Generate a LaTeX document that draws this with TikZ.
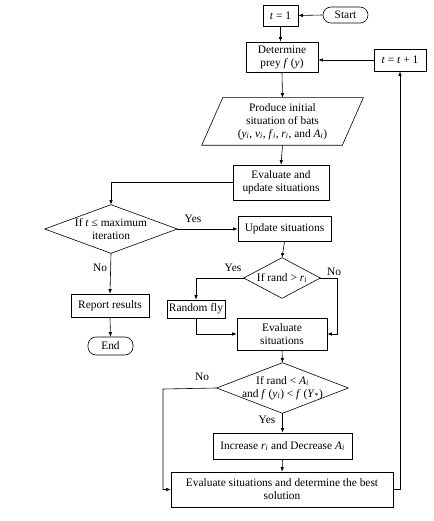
\documentclass[tikz,border=0pt]{standalone}
\usepackage{fontspec}
\setmainfont{Liberation Serif}
\usetikzlibrary{shapes.geometric,arrows.meta}
\newcommand{\subi}[1]{\textit{#1}\textsubscript{\textit{i}}}
\begin{document}
\begin{tikzpicture}[x=1pt,y=-1pt,
  font=\fontsize{11.4}{13}\selectfont,
  line width=0.6pt,
  box/.style={draw,rectangle,align=center,inner sep=1pt},
  dec/.style={rectangle,align=center,inner sep=0pt},
  arr/.style={-{Latex[length=4.5pt,width=3.5pt]}},
  lbl/.style={inner sep=0pt}
]
\useasboundingbox (0,0) rectangle (433,521);
% nodes
\node[box,minimum width=35pt,minimum height=21pt] (t1) at (280.5,15.5) {\textit{t} = 1};
\node[draw,rounded corners=8pt,minimum width=45pt,minimum height=16pt,inner sep=1pt] (start) at (345.5,15) {Start};
\node[box,minimum width=72pt,minimum height=30pt] (det) at (282,57) {Determine\\prey \textit{f} (\textit{y})};
\node[box,minimum width=52pt,minimum height=22pt] (tt1) at (400,60) {\textit{t} = \textit{t} + 1};
\node[align=center,minimum width=140pt,minimum height=47pt,inner sep=0pt] (par) at (282.5,121.5) {Produce initial\\situation of bats\\(\subi{y}, \subi{v}, \subi{f}, \subi{r}, and \subi{A})};
\draw ([xshift=10.5pt]par.north west) -- ([xshift=10.5pt]par.north east) -- ([xshift=-10.5pt]par.south east) -- ([xshift=-10.5pt]par.south west) -- cycle;
\node[box,minimum width=96pt,minimum height=35pt] (eu) at (281,182.5) {Evaluate and\\update situations};
\node[dec,minimum width=132pt,minimum height=48pt] (d1) at (111,229) {If \textit{t} ≤ maximum\\iteration};
\draw (d1.north) -- (d1.east) -- (d1.south) -- (d1.west) -- cycle;
\node[box,minimum width=93pt,minimum height=25pt] (us) at (284.5,229) {Update situations};
\node[box,minimum width=78pt,minimum height=23pt] (rr) at (110,305.5) {Report results};
\node[draw,rounded corners=8pt,minimum width=45pt,minimum height=18pt,inner sep=1pt] (end) at (110.5,346) {End};
\node[dec,minimum width=76pt,minimum height=40pt] (d2) at (282,278) {If rand \textgreater{} \subi{r}};
\draw (d2.north) -- (d2.east) -- (d2.south) -- (d2.west) -- cycle;
\node[box,minimum width=58pt,minimum height=18pt] (rf) at (196,309) {Random fly};
\node[box,minimum width=90pt,minimum height=32pt] (es) at (282,334) {Evaluate\\situations};
\node[dec,minimum width=131pt,minimum height=50pt] (d3) at (282.5,388) {If rand \textless{} \subi{A}\\and \textit{f} (\subi{y}) \textless{} \textit{f} (\textit{Y}\textsubscript{*})};
\draw (d3.north) -- (d3.east) -- (d3.south) -- (d3.west) -- cycle;
\node[box,minimum width=139pt,minimum height=26pt] (inc) at (282.5,446) {Increase \subi{r} and Decrease \subi{A}};
\node[box,minimum width=222pt,minimum height=35pt] (eb) at (282,489.5) {Evaluate situations and determine the best\\solution};
% labels
\node[lbl] (l1) at (193,219) {Yes};
\node[lbl] (l2) at (100,268) {No};
\node[lbl] (l3) at (233,268) {Yes};
\node[lbl] (l4) at (334,272) {No};
\node[lbl] (l5) at (202,377) {No};
\node[lbl] (l6) at (267,420) {Yes};
\coordinate (c3) at (163,389);
% connectors
\draw[arr] (start.west) -- (t1.east);
\draw[arr] (t1.south) -- (t1.south |- det.north);
\draw[arr] (tt1.west) -- (tt1.west -| det.east);
\draw[arr] (det.south) -- (par.north);
\draw[arr] (par.south) -- (eu.north);
\draw[arr] (eu.west) -| (d1.north);
\draw[arr] (d1.east) -- (us.west);
\draw[arr] (d1.south) -- (rr.north);
\draw[arr] (rr.south) -- (end.north);
\draw[arr] (us.south) -- (d2.north);
\draw[arr] (d2.west) -| (rf.north);
\draw[arr] (d2.east) -- ++(17,0) |- (es.east);
\draw[arr] (rf.south) |- (es.west);
\draw[arr] (es.south) -- (d3.north);
\draw[arr] (d3.west) -- (c3) |- (eb.west);
\draw[arr] (d3.south) -- (inc.north);
\draw[arr] (inc.south) -- (eb.north);
\draw[arr] (eb.east) -| (tt1.south);
\end{tikzpicture}
\end{document}
